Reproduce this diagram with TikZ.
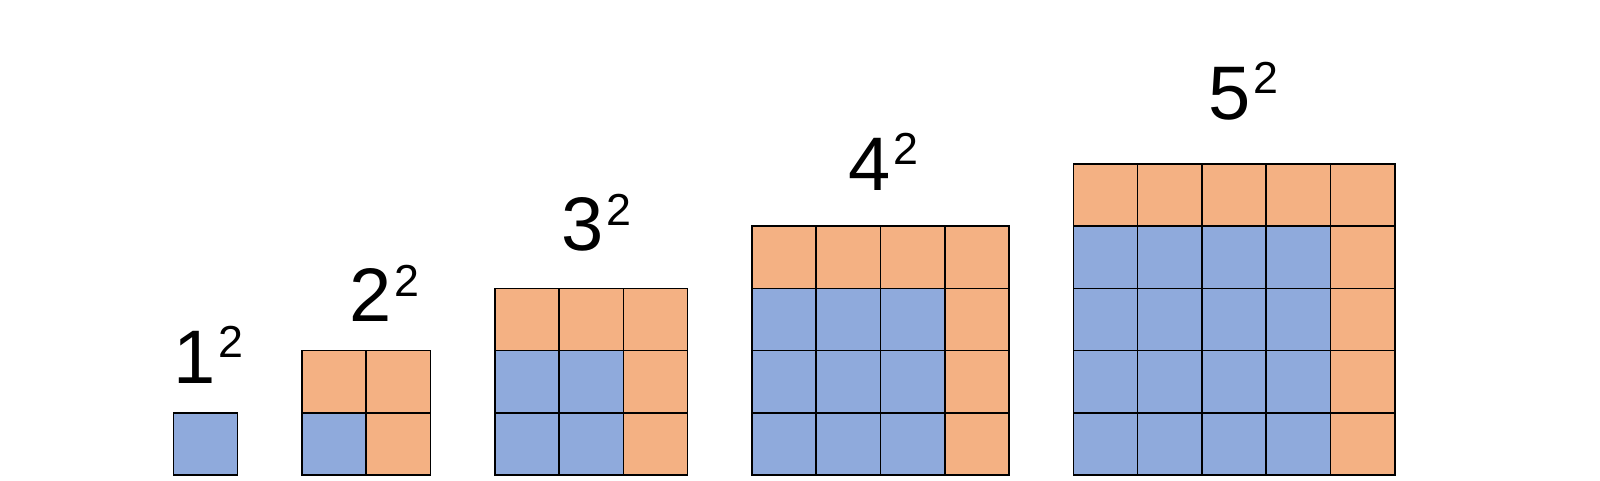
\documentclass[tikz,border=0pt]{standalone}
\usepackage{fontspec}
\setmainfont{Liberation Sans}
\usepackage{xcolor}
\usetikzlibrary{positioning}

\definecolor{cellblue}{HTML}{8FAADC}
\definecolor{cellorange}{HTML}{F4B183}

\newcommand\sqlab[1]{#1\kern1.5pt\raisebox{14.6pt}{\fontsize{25.5}{25.5}\selectfont 2}}

\begin{document}
\begin{tikzpicture}[x=1.2858cm, y=1.244cm,
  cell/.style={draw=black, line width=0.9pt},
  sqlabel/.style={inner sep=0pt, anchor=base west, font=\fontsize{43.2}{43.2}\selectfont}]
\useasboundingbox (-2.6956,-0.0804) rectangle (22.192,7.637);
% the five squares, each one cell apart
\foreach \n/\ox in {1/0,2/2,3/5,4/9,5/14}{
  \foreach \i in {1,...,\n}{
    \foreach \j in {1,...,\n}{
      \pgfmathtruncatemacro\isorange{and(\n>1,or(\i==\n,\j==\n))}
      \ifnum\isorange=1 \def\cellcol{cellorange}\else\def\cellcol{cellblue}\fi
      \draw[cell, fill=\cellcol] (\ox+\i-1,\j-1) rectangle +(1,1);
    }
  }
}
% labels
\foreach \n/\lx/\ly in {1/0.002/1.474, 2/2.739/2.465, 3/6.030/3.606, 4/10.495/4.582, 5/16.10/5.715}
  \node[sqlabel] (lab\n) at (\lx,\ly) {\sqlab{\n}};
\end{tikzpicture}
\end{document}
